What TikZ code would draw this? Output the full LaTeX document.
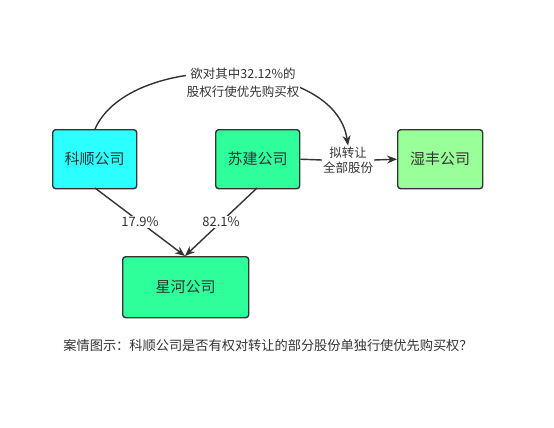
\documentclass[tikz,border=0pt]{standalone}
\usepackage{fontspec}
\setmainfont{Noto Sans CJK SC}
\usetikzlibrary{arrows.meta}
\definecolor{ink}{HTML}{333333}
\definecolor{cyanbox}{HTML}{2CFFFF}
\definecolor{greenbox}{HTML}{2EFF9A}
\definecolor{lightgreen}{HTML}{99FF99}
\begin{document}
\begin{tikzpicture}[x=1pt,y=-1pt,
  company/.style={draw=ink, line width=1.4pt, rounded corners=3pt, text=ink,
    font=\fontsize{15}{17}\selectfont, inner sep=0pt, anchor=north west},
  conn/.style={draw=ink, line width=1.4pt, -{Stealth[length=10pt,width=8pt]}},
  lbl/.style={text=ink, font=\fontsize{12.5}{15}\selectfont, fill=white, inner sep=1pt, align=center}]
\useasboundingbox (0,0) rectangle (554,428);
\node[company, fill=cyanbox, minimum width=84pt, minimum height=59pt] (ks) at (52,129) {科顺公司};
\node[company, fill=greenbox, minimum width=84pt, minimum height=59pt] (sj) at (215,129) {苏建公司};
\node[company, fill=lightgreen, minimum width=85pt, minimum height=59pt] (sf) at (397,129) {湿丰公司};
\node[company, fill=greenbox, minimum width=126pt, minimum height=61pt] (xh) at (122,256) {星河公司};
\coordinate (tip) at (185,256);
\node[lbl] (tl) at (348,160) {拟转让\\全部股份};
\draw[draw=ink, line width=1.4pt] (sj.east) -- (tl.west);
\draw[conn] (tl.east) -- (sf.west);
\draw[conn] (95,188) -- (tip) node[lbl, pos=0.5, font=\fontsize{13}{15}\selectfont] (p1) {17.9\%};
\draw[conn] (257,188) -- (tip) node[lbl, pos=0.5, font=\fontsize{13}{15}\selectfont] (p2) {82.1\%};
\draw[conn] (95,129) .. controls (130,50) and (335,55) .. (tl.north);
\node[lbl, font=\fontsize{12.5}{18}\selectfont] (cl) at (243,83) {欲对其中32.12\%的\\股权行使优先购买权};
\node[text=ink, font=\fontsize{13.2}{15}\selectfont] (cap) at (268,345) {案情图示：科顺公司是否有权对转让的部分股份单独行使优先购买权？};
\end{tikzpicture}
\end{document}
